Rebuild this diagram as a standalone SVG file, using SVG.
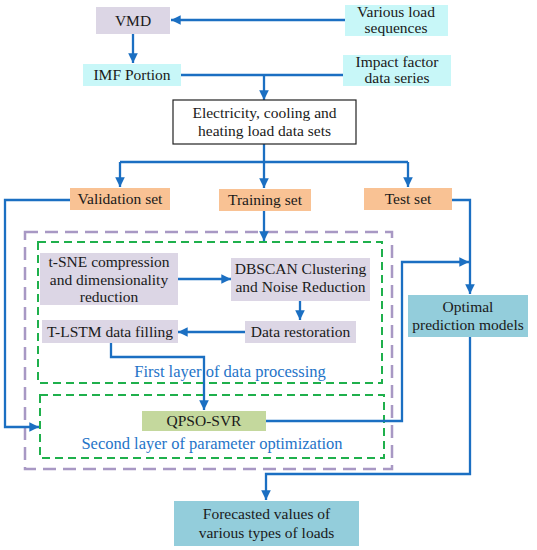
<svg xmlns="http://www.w3.org/2000/svg" width="537" height="550" viewBox="0 0 537 550">
<defs>
<marker id="ah" viewBox="0 0 10 10" refX="10" refY="5" markerWidth="4.6" markerHeight="4.2" markerUnits="strokeWidth" orient="auto">
<path d="M0,0 L10,5 L0,10 z" fill="#1b6fc2"/>
</marker>
</defs>
<style>
text{font-family:"Liberation Serif","Times New Roman",serif;font-size:15.5px;fill:#1a1a1a;text-anchor:middle}
.lbl{fill:#1f74c8;font-size:16.5px}
.lav{fill:#dcd6e5}
.cyan{fill:#c8f7f8}
.org{fill:#f9c294}
.teal{fill:#93cddb}
.grn{fill:#c4d89d}
.wht{fill:#ffffff;stroke:#222;stroke-width:1.2}
.c{fill:none;stroke:#1b6fc2;stroke-width:2.3}
.a{marker-end:url(#ah)}
.pd{fill:none;stroke:#a898c4;stroke-width:2.5;stroke-dasharray:13 7}
.gd{fill:none;stroke:#1fb04c;stroke-width:2;stroke-dasharray:8 5}
</style>
<g id="frames">
<rect class="pd" x="25" y="232" width="367" height="237"/>
<rect class="gd" x="38" y="242" width="344" height="141"/>
<rect class="gd" x="40" y="395" width="344" height="63"/>
</g>
<g id="connectors">
<path class="c a" d="M345,20 H171"/>
<path class="c a" d="M133,34 V63"/>
<path class="c" d="M181,75 H343"/>
<path class="c a" d="M264,75 V100"/>
<path class="c" d="M264,144 V162 M120,162 H408"/>
<path class="c a" d="M120,162 V187"/>
<path class="c a" d="M264,162 V188"/>
<path class="c a" d="M408,162 V187"/>
<path class="c a" d="M70,200 H5 V427 H39"/>
<path class="c a" d="M264,211 V241"/>
<path class="c a" d="M178,279 H231"/>
<path class="c a" d="M300,301 V320"/>
<path class="c a" d="M245,332 H178"/>
<path class="c a" d="M111,343 V357 H204 V410"/>
<path class="c a" d="M266,421 H402 V262 H469"/>
<path class="c a" d="M452,200 H470 V294"/>
<path class="c a" d="M470,337 V474 H266 V500"/>
</g>
<g id="vmd"><rect class="lav" x="96" y="7" width="74" height="27"/><text x="133" y="26">VMD</text></g>
<g id="various"><rect class="cyan" x="345" y="5" width="103" height="31"/><text x="396" y="17">Various load</text><text x="396" y="33">sequences</text></g>
<g id="imf"><rect class="cyan" x="83" y="64" width="98" height="22"/><text x="132" y="80">IMF Portion</text></g>
<g id="impact"><rect class="cyan" x="343" y="55" width="108" height="31"/><text x="397" y="67">Impact factor</text><text x="397" y="83">data series</text></g>
<g id="datasets"><rect class="wht" x="173" y="100" width="183" height="44"/><text x="264.5" y="118">Electricity, cooling and</text><text x="264.5" y="136">heating load data sets</text></g>
<g id="validation"><rect class="org" x="70" y="188" width="100" height="22"/><text x="120" y="204">Validation set</text></g>
<g id="training"><rect class="org" x="219" y="189" width="92" height="22"/><text x="265" y="205">Training set</text></g>
<g id="test"><rect class="org" x="364" y="188" width="88" height="22"/><text x="408" y="204">Test set</text></g>
<g id="tsne"><rect class="lav" x="40" y="253" width="138" height="52"/><text x="109" y="267">t-SNE compression</text><text x="109" y="284.5">and dimensionality</text><text x="109" y="302">reduction</text></g>
<g id="dbscan"><rect class="lav" x="231" y="258" width="139" height="43"/><text x="300.5" y="274">DBSCAN Clustering</text><text x="300.5" y="292">and Noise Reduction</text></g>
<g id="restoration"><rect class="lav" x="245" y="321" width="111" height="22"/><text x="300.5" y="337">Data restoration</text></g>
<g id="tlstm"><rect class="lav" x="42" y="320" width="136" height="23"/><text x="110" y="337">T-LSTM data filling</text></g>
<g id="layer1"><text class="lbl" x="230" y="377">First layer of data processing</text></g>
<g id="qpso"><rect class="grn" x="142" y="411" width="124" height="20"/><text x="204" y="426">QPSO-SVR</text></g>
<g id="layer2"><text class="lbl" x="212" y="449">Second layer of parameter optimization</text></g>
<g id="optimal"><rect class="teal" x="408" y="295" width="120" height="42"/><text x="468" y="312">Optimal</text><text x="468" y="330">prediction models</text></g>
<g id="forecast"><rect class="teal" x="174" y="501" width="185" height="45"/><text x="266.5" y="519">Forecasted values of</text><text x="266.5" y="538">various types of loads</text></g>
</svg>
